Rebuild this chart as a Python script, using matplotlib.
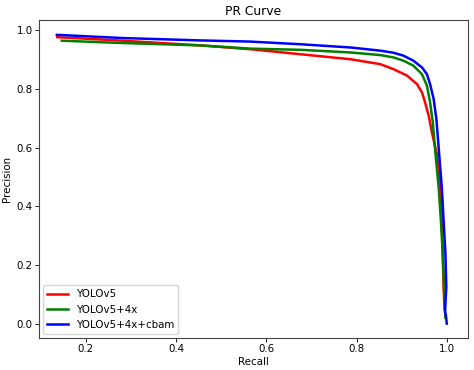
import matplotlib
matplotlib.use("Agg")
import matplotlib.pyplot as plt

# --- data ---
recall_base = [0.137, 0.283, 0.454, 0.565, 0.675, 0.786, 0.853, 0.882, 0.912, 0.934,
               0.945, 0.952, 0.960, 0.967, 0.978, 0.986, 0.989, 0.991, 0.993, 0.995]
precision_base = [0.976, 0.964, 0.948, 0.935, 0.918, 0.901, 0.884, 0.867, 0.845, 0.816,
                  0.788, 0.754, 0.708, 0.652, 0.578, 0.465, 0.351, 0.238, 0.125, 0.050]

recall_4x = [0.147, 0.283, 0.454, 0.565, 0.675, 0.786, 0.853, 0.882, 0.904, 0.926,
             0.945, 0.956, 0.963, 0.969, 0.975, 0.982, 0.987, 0.991, 0.994, 0.997]
precision_4x = [0.964, 0.956, 0.948, 0.937, 0.933, 0.924, 0.915, 0.907, 0.896, 0.879,
                0.850, 0.811, 0.754, 0.686, 0.578, 0.465, 0.351, 0.238, 0.125, 0.020]

recall_cbam = [0.136, 0.283, 0.454, 0.565, 0.675, 0.786, 0.853, 0.882, 0.904, 0.926,
               0.945, 0.956, 0.963, 0.971, 0.977, 0.982, 0.989, 0.993, 0.997, 0.999,
               0.996, 0.998, 1.000]
precision_cbam = [0.984, 0.973, 0.965, 0.961, 0.952, 0.941, 0.930, 0.923, 0.913, 0.896,
                  0.873, 0.850, 0.816, 0.765, 0.697, 0.600, 0.465, 0.351, 0.238, 0.125,
                  0.040, 0.030, 0.000]

series = [
    ("YOLOv5", recall_base, precision_base, "red"),
    ("YOLOv5+4x", recall_4x, precision_4x, "green"),
    ("YOLOv5+4x+cbam", recall_cbam, precision_cbam, "blue"),
]

FS = 7.4

fig = plt.figure(figsize=(4.74, 3.70), dpi=100)
ax = fig.add_axes([0.0823, 0.0865, 0.905, 0.859])

for name, r, p, c in series:
    ax.plot(r, p, color=c, linewidth=1.8, solid_joinstyle="round", label=name)

ax.set_xlim(0.0965, 1.047)
ax.set_ylim(-0.049, 1.034)
ax.set_xticks([0.2, 0.4, 0.6, 0.8, 1.0])
ax.set_yticks([0.0, 0.2, 0.4, 0.6, 0.8, 1.0])

ax.set_title("PR Curve", fontsize=8.9, pad=4)
ax.set_xlabel("Recall", fontsize=FS, labelpad=2)
ax.set_ylabel("Precision", fontsize=FS, labelpad=3)
ax.tick_params(labelsize=FS, length=2.6, width=0.6, pad=2)
for sp in ax.spines.values():
    sp.set_linewidth(0.8)
    sp.set_color("#444444")

ax.legend(loc="lower left", fontsize=FS, handlelength=2.0, borderaxespad=0.4)

fig.savefig("out.png", dpi=100)
